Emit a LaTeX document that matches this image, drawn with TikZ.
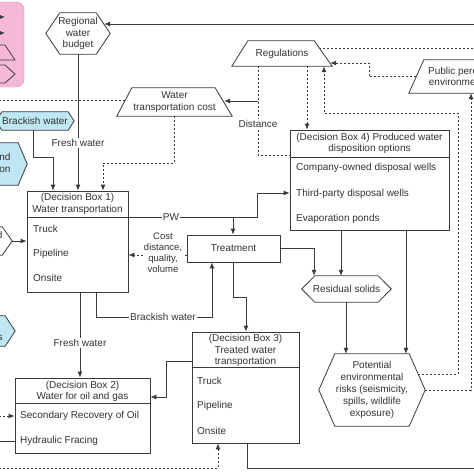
\documentclass[tikz,border=0pt]{standalone}
\usepackage{fontspec}
\setmainfont{Liberation Sans}
\usetikzlibrary{arrows.meta,calc}
\pgfdeclarelayer{bg}
\pgfsetlayers{bg,main}
\definecolor{lnc}{HTML}{3A3A3A}
\definecolor{txc}{HTML}{333333}
\definecolor{pinkc}{HTML}{F6B8D9}
\definecolor{pinkd}{HTML}{D98AB5}
\definecolor{bluec}{HTML}{BFE6F3}
\newcommand\hexat[3]{%
 \begin{pgfonlayer}{bg}
 \draw[shp,fill=#3] (#1.west) -- ([xshift=#2]#1.north west) -- ([xshift=-#2]#1.north east) -- (#1.east) -- ([xshift=-#2]#1.south east) -- ([xshift=#2]#1.south west) -- cycle;
 \end{pgfonlayer}}
\newcommand\trapat[4]{%
 \begin{pgfonlayer}{bg}
 \draw[shp,fill=#4] ([xshift=#2]#1.north west) -- ([xshift=-#3]#1.north east) -- (#1.south east) -- (#1.south west) -- cycle;
 \end{pgfonlayer}}
\tikzset{
 shp/.style={draw=lnc, line width=0.8pt},
 box/.style={draw=lnc, line width=0.8pt, fill=white, inner sep=0pt},
 hexn/.style={inner sep=0pt, align=center, text=txc},
 trapn/.style={inner sep=0pt, align=center, text=txc},
 txt/.style={inner sep=0pt, align=center, text=txc},
 itm/.style={inner sep=0pt, anchor=west, text=txc},
 lbl/.style={fill=white, inner sep=1pt, align=center, text=txc},
 con/.style={draw=lnc, line width=0.8pt},
 arr/.style={con, -{Latex[length=6pt,width=5pt]}},
 dsh/.style={dash pattern=on 2pt off 2pt},
}
\begin{document}
\begin{tikzpicture}[x=1pt,y=-1pt,font=\fontsize{10}{11.8}\selectfont]
\useasboundingbox (0,0) rectangle (474,474);
\path[clip] (0,0) rectangle (474,474);
% legend (cropped)
\draw[fill=pinkc, draw=pinkd, rounded corners=8pt] (-20,2) rectangle (24,87);
\draw[arr] (-10,17) -- (5,17);
\draw[arr] (-10,33) -- (5,33);
\draw[shp] (-5,45) -- (5,45) -- (15,60) -- (-5,60);
\draw[shp] (-5,65) -- (5,65) -- (15,74) -- (5,83) -- (-5,83);
% nodes
\node[hexn, minimum width=64, minimum height=41] (rwb) at (78,33.5) {Regional\\water\\budget};
\hexat{rwb}{14}{white}
\node[trapn, minimum width=115, minimum height=28] (wtc) at (174.5,102) {Water\\transportation cost};
\trapat{wtc}{15}{17}{white}
\node[trapn, minimum width=100, minimum height=25] (reg) at (282,53.5) {Regulations};
\trapat{reg}{16}{18}{white}
\node[trapn, minimum width=126, minimum height=33] (pub) at (472,76.5) {Public perception of\\environmental risks};
\trapat{pub}{15}{15}{white}
\node[hexn, minimum width=78, minimum height=18] (bw) at (35,121) {Brackish water};
\hexat{bw}{6}{bluec}
\node[hexn, minimum width=87, minimum height=42] (sfw) at (-16.5,164) {Surface and\\precipitation};
\hexat{sfw}{9}{bluec}
\node[hexn, minimum width=62, minimum height=28] (lft3) at (-19,241) {Produced\\waters};
\hexat{lft3}{10}{white}
\node[hexn, minimum width=60, minimum height=30] (lft4) at (-15,331) {Other\\sources};
\hexat{lft4}{10}{bluec}
% decision box 1
\node[box, minimum width=101, minimum height=101] (db1) at (77.5,241.5) {};
\draw[shp] (db1.west |- 0,217) -- (db1.east |- 0,217);
\node[txt] (db1h) at (77.5,204) {(Decision Box 1)\\Water transportation};
\node[itm] (db1a) at (33,229) {Truck};
\node[itm] (db1b) at (33,254) {Pipeline};
\node[itm] (db1c) at (33,278) {Onsite};
% decision box 4
\node[box, minimum width=159, minimum height=100] (db4) at (369.5,180) {};
\draw[shp] (db4.west |- 0,157) -- (db4.east |- 0,157);
\node[txt] (db4h) at (369.5,143.5) {(Decision Box 4) Produced water\\disposition options};
\node[itm] (db4a) at (296,168) {Company-owned disposal wells};
\node[itm] (db4b) at (296,194) {Third-party disposal wells};
\node[itm] (db4c) at (296,219) {Evaporation ponds};
% decision box 3
\node[box, minimum width=107, minimum height=111] (db3) at (245.5,387.5) {};
\draw[shp] (db3.west |- 0,367) -- (db3.east |- 0,367);
\node[txt] (db3h) at (245.5,350.5) {(Decision Box 3)\\Treated water\\transportation};
\node[itm] (db3a) at (197,381) {Truck};
\node[itm] (db3b) at (197,406) {Pipeline};
\node[itm] (db3c) at (197,431) {Onsite};
% decision box 2
\node[box, minimum width=135, minimum height=75] (db2) at (82.5,415.5) {};
\draw[shp] (db2.west |- 0,403) -- (db2.east |- 0,403);
\node[txt] (db2h) at (82.5,391.5) {(Decision Box 2)\\Water for oil and gas};
\node[itm] (db2a) at (20,416) {Secondary Recovery of Oil};
\node[itm] (db2b) at (20,441) {Hydraulic Fracing};
% treatment, residual solids, risks
\node[box, minimum width=93, minimum height=27, text=txc] (trt) at (233.5,248.5) {Treatment};
\node[hexn, minimum width=89, minimum height=26] (res) at (346.5,289) {Residual solids};
\hexat{res}{13}{white}
\node[hexn, minimum width=106, minimum height=72] (per) at (372,390) {Potential\\environmental\\risks (seismicity,\\spills, wildlife\\exposure)};
\hexat{per}{16}{white}
% free ends
\coordinate (topr) at (480,24);
\coordinate (lw) at (-5,100);
\coordinate (dj) at (258,101);
\coordinate (pwj) at (233,217);
\coordinate (rr) at (480,48);
\coordinate (lsec) at (-5,416);
\coordinate (lhyd) at (-5,441);
\coordinate (lbot) at (-5,468);
\coordinate (rbot) at (480,468);
% connectors
\draw[arr] (topr) -- ($(rwb.east)+(-6,-9.5)$);
\draw[arr] (rwb.south) -- (rwb.south |- db1.north);
\node[lbl] (fw1) at (78,143) {Fresh water};
\draw[con,dsh] (lw) -- ($(wtc.west)+(8,-2)$);
\draw[arr] (33,0 |- bw.south) -- (33,157) -- (53,157) -- (53,0 |- db1.north);
\draw[arr,dsh] (174,0 |- wtc.south) -- (174,163) -- (103,163) -- (103,0 |- db1.north);
\draw[arr] (lft3.east) -- (lft3.east -| db1.west);
\draw[con,dsh] (258,0 |- reg.south) -- (258,155) -- (258,155 -| db4.west);
\draw[arr] (dj) -- ($(wtc.east)+(-8,-1)$);
\node[lbl] (dist) at (258,124) {Distance};
\draw[arr,dsh] (307,0 |- reg.south) -- (307,0 |- db4.north);
\draw[arr,dsh] ($(pub.west)+(7.5,0)$) -- (369,76.5) -- (369,63) -- ($(reg.east)+(-2,9.5)$);
\draw[con,dsh] ($(reg.east)+(-13,-5.5)$) -- (rr);
\draw[arr,dsh] ($(per.east)+(-7,-16)$) -- (458,374) -- (458,113) -- (324,113) -- (324,0 |- reg.south);
\draw[arr,dsh] (per.east) -- (471,0 |- per.east) -- (471,0 |- pub.south);
\draw[arr] (db1.east |- 0,217) -- (257,217) -- (257,193) -- (257,193 -| db4.west);
\draw[arr] (pwj) -- (pwj |- trt.north);
\node[lbl] (pw) at (171,217) {PW};
\draw[arr,dsh] (trt.west |- 0,255) -- (db1.east |- 0,255);
\node[lbl, font=\fontsize{9.5}{11}\selectfont] (cdq) at (163,253) {Cost\\distance,\\quality,\\volume};
\draw[arr] (96,0 |- db1.south) -- (96,317) -- (212,317) -- (212,0 |- trt.south);
\node[lbl] (bwl) at (163,317) {Brackish water};
\draw[arr] (80,0 |- db1.south) -- (80,0 |- db2.north);
\node[lbl] (fw2) at (80,343) {Fresh water};
\draw[arr] (trt.east) -- (314,0 |- trt.east) -- (314,0 |- res.north);
\draw[arr] (233,0 |- trt.south) -- (233,297) -- (246,297) -- (246,0 |- db3.north);
\draw[arr] (341,0 |- db4.south) -- (341,0 |- res.north);
\draw[arr] (406,0 |- db4.south) -- (406,0 |- per.north);
\draw[arr] (346,0 |- res.south) -- (346,0 |- per.north);
\draw[arr] (db3.west |- 0,361) -- (166,361) -- (166,397) -- (166,397 -| db2.east);
\draw[arr,dsh] (lsec) -- (lsec -| db2.west);
\draw[con] (db2.west |- lhyd) -- (lhyd);
\draw[arr,dsh] (lbot) -- (218,468) -- (218,0 |- db3.south);
\draw[con] (247,0 |- db3.south) -- (247,468) -- (rbot);
\end{tikzpicture}
\end{document}
